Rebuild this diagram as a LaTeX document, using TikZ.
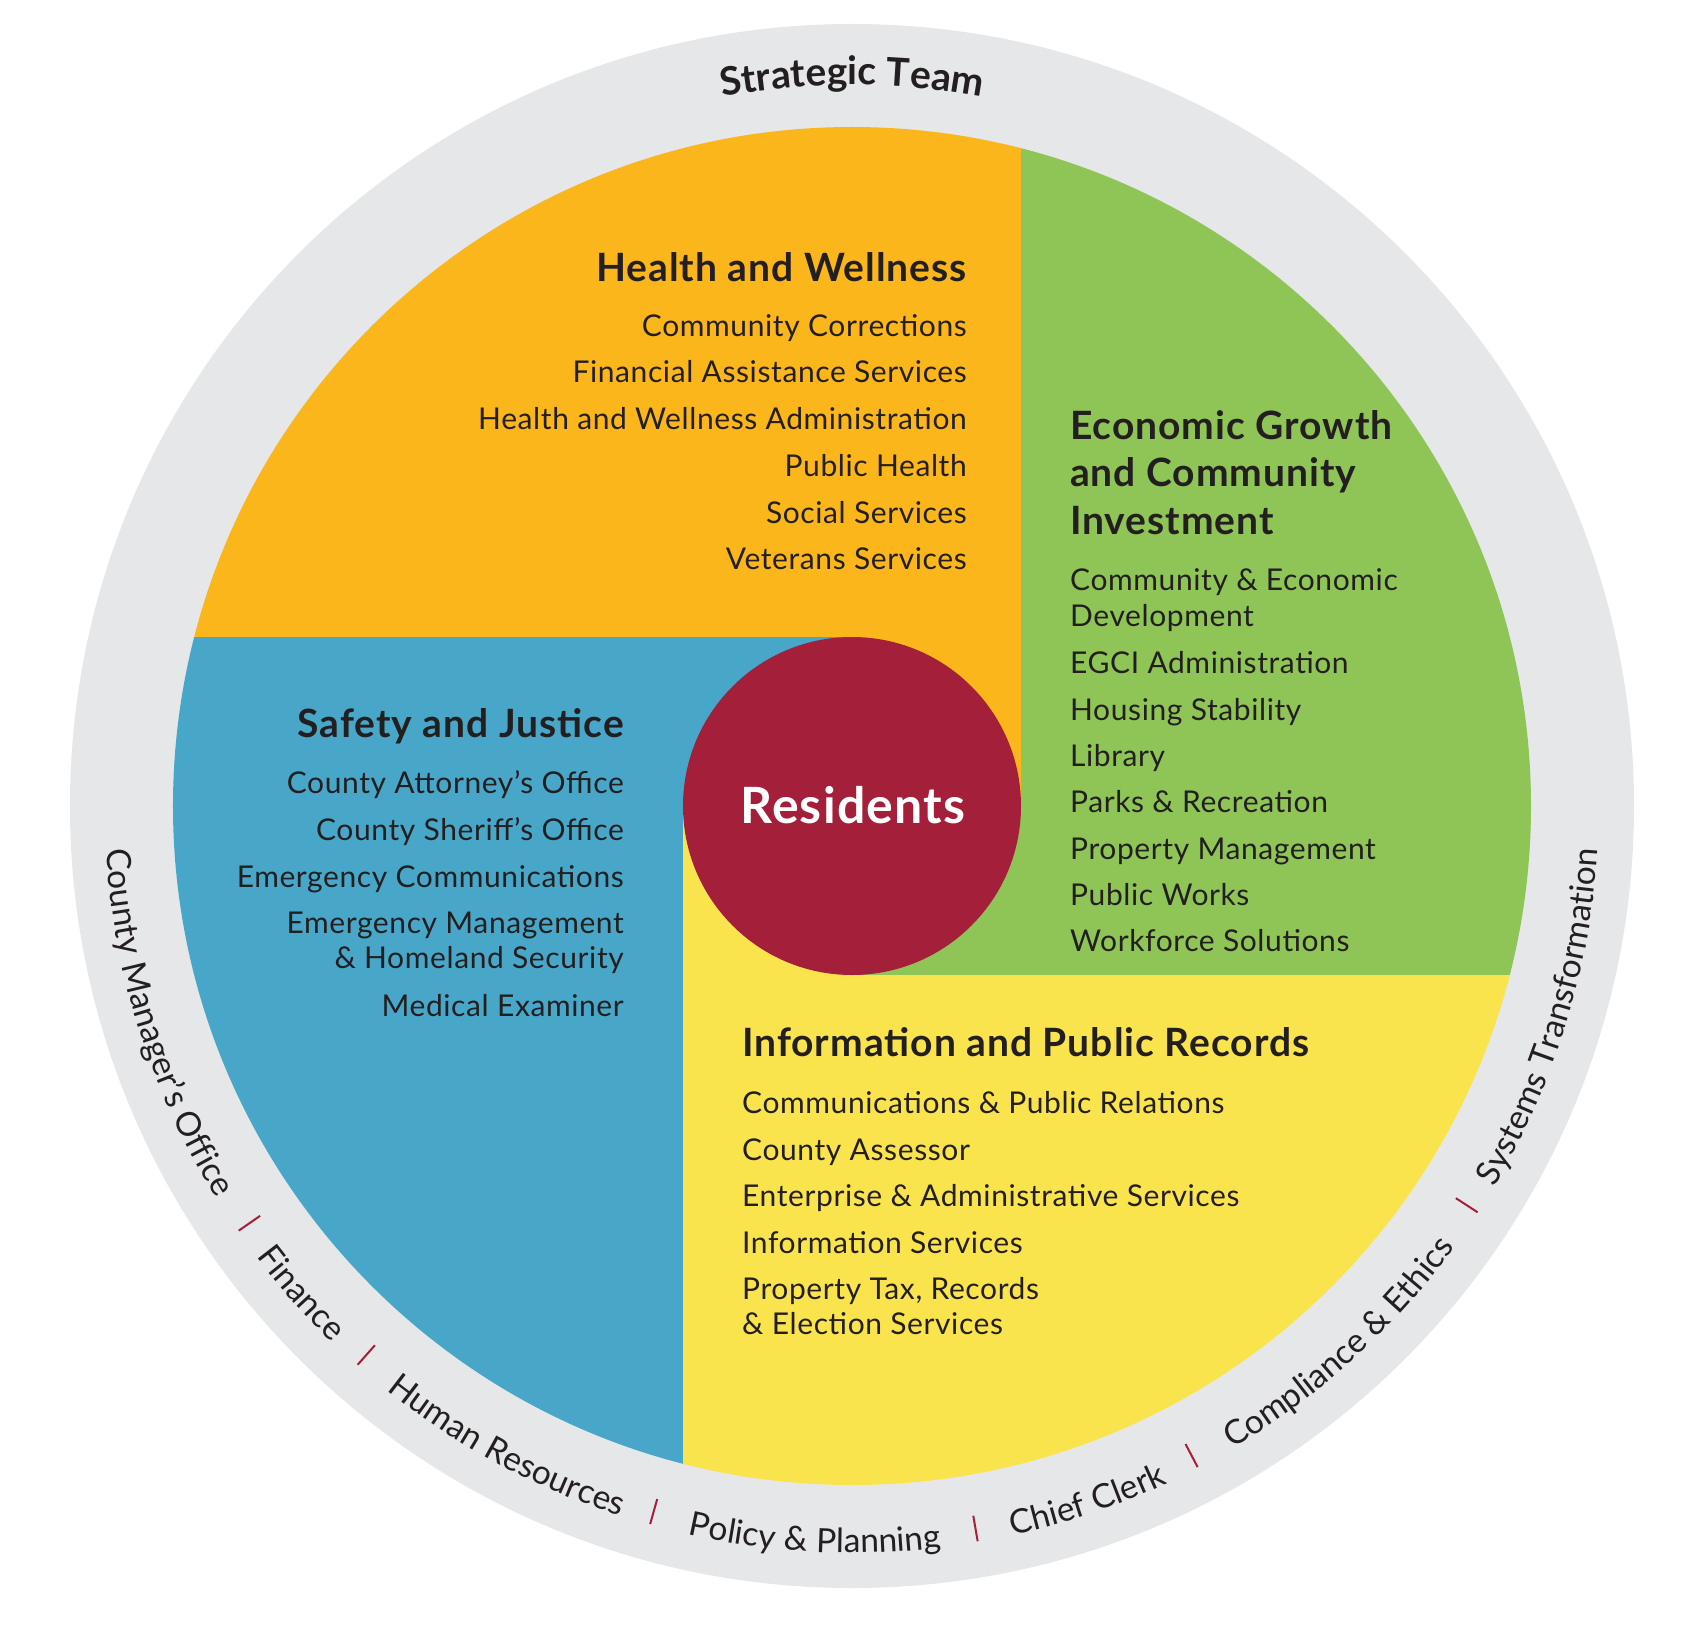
\documentclass[tikz,border=0pt]{standalone}
\usepackage{fontspec}
\setmainfont{Lato}
\newfontfamily\latoitem{Lato}[LetterSpace=2]
\newfontfamily\latohead{Lato}[LetterSpace=2.5]
\usetikzlibrary{decorations.text}
\definecolor{ringgray}{RGB}{230,231,233}
\definecolor{orangeC}{RGB}{250,182,26}
\definecolor{greenC}{RGB}{143,196,86}
\definecolor{blueC}{RGB}{72,167,200}
\definecolor{yellowC}{RGB}{250,228,78}
\definecolor{maroonC}{RGB}{163,31,58}
\definecolor{txt}{RGB}{35,31,32}
\newcommand\myitemfont{\latoitem\fontsize{30}{35}\selectfont}
\newcommand\myheadfont{\latohead\bfseries\fontsize{39}{45}\selectfont}
\newcommand\myringfont{\fontsize{33.5}{38}\selectfont}
\begin{document}
\begin{tikzpicture}[x=1pt,y=1pt,
  item/.style={font=\myitemfont, text=txt, inner sep=0pt},
  head/.style={font=\myheadfont, text=txt, inner sep=0pt},
  sep/.style={draw=maroonC, line width=2pt},
  ringlabel/.style={decorate, decoration={text along path, text align=center, text={|\myringfont\color{txt}|#1}}}
]
\useasboundingbox (-852,-822) rectangle (833,806);
\fill[white] (-852,-822) rectangle (833,806);
% rings
\fill[ringgray] (0,0) circle (782pt);
\begin{scope}
\clip (0,0) circle (679pt);
\fill[orangeC] (-700,169) -- (-700,700) -- (169,700) -- (169,0) -- (0,0) -- (0,169) -- cycle;
\fill[greenC] (169,700) -- (700,700) -- (700,-169) -- (0,-169) -- (0,0) -- (169,0) -- cycle;
\fill[yellowC] (700,-169) -- (700,-700) -- (-169,-700) -- (-169,0) -- (0,0) -- (0,-169) -- cycle;
\fill[blueC] (-169,-700) -- (-700,-700) -- (-700,169) -- (0,169) -- (0,0) -- (-169,0) -- cycle;
\end{scope}
% residents
\node[circle, fill=maroonC, minimum size=338pt, inner sep=0pt] (res) at (0,0) {};
\node[anchor=base, text=white, font=\latohead\bfseries\fontsize{50}{58}\selectfont, inner sep=0pt] (restext) at (1,-17) {Residents};
% Health and Wellness
\node[head, anchor=base east] (hwh) at (115,524) {Health and Wellness};
\node[item, anchor=base east] (hw1) at (115,469) {Community Corrections};
\node[item, anchor=base east] (hw2) at (115,423) {Financial Assistance Services};
\node[item, anchor=base east] (hw3) at (115,376) {Health and Wellness Administration};
\node[item, anchor=base east] (hw4) at (115,329) {Public Health};
\node[item, anchor=base east] (hw5) at (115,283) {Social Services};
\node[item, anchor=base east] (hw6) at (115,237) {Veterans Services};
% Safety and Justice
\node[head, anchor=base east] (sjh) at (-228,69) {Safety and Justice};
\node[item, anchor=base east] (sj1) at (-228,13) {County Attorney’s Office};
\node[item, anchor=base east] (sj2) at (-228,-34) {County Sheriff’s Office};
\node[item, anchor=base east] (sj3) at (-228,-81) {Emergency Communications};
\node[item, anchor=base east] (sj4) at (-228,-127) {Emergency Management};
\node[item, anchor=base east] (sj4b) at (-228,-162) {\& Homeland Security};
\node[item, anchor=base east] (sj5) at (-228,-210) {Medical Examiner};
% Economic Growth
\node[head, anchor=base west] (egh1) at (218,366) {Economic Growth};
\node[head, anchor=base west] (egh2) at (218,319) {and Community};
\node[head, anchor=base west] (egh3) at (218,272) {Investment};
\node[item, anchor=base west] (eg1) at (218,216) {Community \& Economic};
\node[item, anchor=base west] (eg1b) at (218,180) {Development};
\node[item, anchor=base west] (eg2) at (218,133) {EGCI Administration};
\node[item, anchor=base west] (eg3) at (218,86) {Housing Stability};
\node[item, anchor=base west] (eg4) at (218,40) {Library};
\node[item, anchor=base west] (eg5) at (218,-6) {Parks \& Recreation};
\node[item, anchor=base west] (eg6) at (218,-53) {Property Management};
\node[item, anchor=base west] (eg7) at (218,-99) {Public Works};
\node[item, anchor=base west] (eg8) at (218,-145) {Workforce Solutions};
% Information and Public Records
\node[head, anchor=base west] (iph) at (-110,-250) {Information and Public Records};
\node[item, anchor=base west] (ip1) at (-110,-307) {Communications \& Public Relations};
\node[item, anchor=base west] (ip2) at (-110,-354) {County Assessor};
\node[item, anchor=base west] (ip3) at (-110,-400) {Enterprise \& Administrative Services};
\node[item, anchor=base west] (ip4) at (-110,-447) {Information Services};
\node[item, anchor=base west] (ip5) at (-110,-493) {Property Tax, Records};
\node[item, anchor=base west] (ip5b) at (-110,-528) {\& Election Services};
% ring texts
\path[decorate, decoration={text along path, text align=center, text={|\bfseries\fontsize{39}{45}\selectfont\color{txt}|Strategic Team}}] (110:721pt) arc[start angle=110, end angle=70, radius=721pt];
\path[ringlabel={County Manager’s Office}] (172.5:747pt) arc[start angle=172.5, end angle=222.5, radius=747pt];
\path[ringlabel={Finance}] (206.5:747pt) arc[start angle=206.5, end angle=236.5, radius=747pt];
\path[ringlabel={Human Resources}] (221.7:747pt) arc[start angle=221.7, end angle=261.7, radius=747pt];
\path[ringlabel={Policy {\&} Planning}] (247.1:747pt) arc[start angle=247.1, end angle=287.1, radius=747pt];
\path[ringlabel={Chief Clerk}] (273.7:747pt) arc[start angle=273.7, end angle=303.7, radius=747pt];
\path[ringlabel={Compliance {\&} Ethics}] (292.2:747pt) arc[start angle=292.2, end angle=332.2, radius=747pt];
\path[ringlabel={Systems Transformation}] (318:747pt) arc[start angle=318, end angle=368, radius=747pt];
% separators
\foreach \a in {214.7,228.5,254.3,279.7,297.6,327.0}
  \draw[sep] (\a:720pt) -- (\a:746pt);
\end{tikzpicture}
\end{document}
